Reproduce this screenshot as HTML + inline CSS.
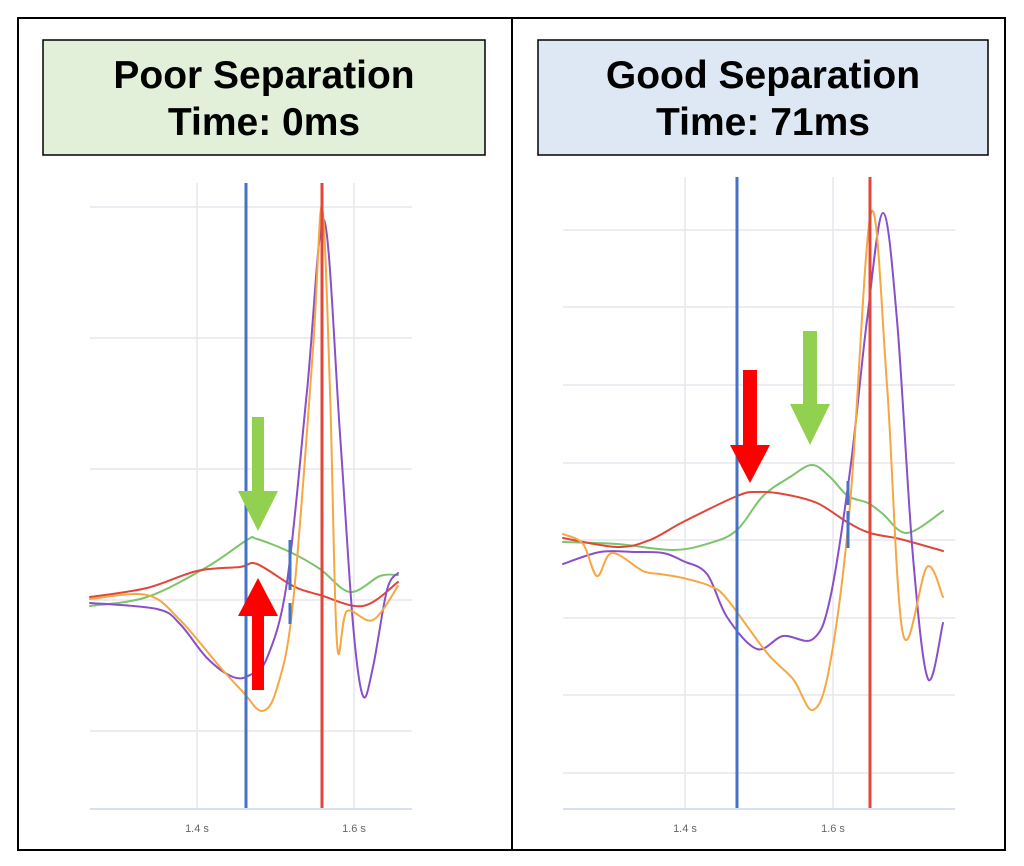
<!DOCTYPE html>
<html><head><style>
html,body{margin:0;padding:0;background:#fff;}
svg{display:block;}
text{font-family:"Liberation Sans",sans-serif;}
</style></head><body>
<svg id="s" width="1024" height="866" viewBox="0 0 1024 866" xmlns="http://www.w3.org/2000/svg">
<rect x="0" y="0" width="1024" height="866" fill="#fff"/>
<rect x="18" y="18" width="987" height="832" fill="none" stroke="#000" stroke-width="2"/>
<line x1="512" y1="18" x2="512" y2="850" stroke="#000" stroke-width="2"/>

<rect x="43" y="40" width="442" height="115" fill="#e2efd9" stroke="#000" stroke-width="1.5"/>
<text x="264" y="88" text-anchor="middle" font-size="39" font-weight="bold">Poor Separation</text>
<text x="264" y="135" text-anchor="middle" font-size="39" font-weight="bold">Time: 0ms</text>
<rect x="538" y="40" width="450" height="115" fill="#dee8f4" stroke="#000" stroke-width="1.5"/>
<text x="763" y="88" text-anchor="middle" font-size="39" font-weight="bold">Good Separation</text>
<text x="763" y="135" text-anchor="middle" font-size="39" font-weight="bold">Time: 71ms</text>

<!-- LEFT CHART -->
<g stroke="#e6e6ee" stroke-width="1.5">
<line x1="90" y1="207" x2="412" y2="207"/><line x1="90" y1="338" x2="412" y2="338"/>
<line x1="90" y1="469" x2="412" y2="469"/><line x1="90" y1="600" x2="412" y2="600"/>
<line x1="90" y1="731" x2="412" y2="731"/>
<line x1="197" y1="183" x2="197" y2="808"/><line x1="354" y1="183" x2="354" y2="808"/>
</g>
<line x1="90" y1="809" x2="412" y2="809" stroke="#ccd6eb" stroke-width="1.5"/>
<text x="197" y="832" text-anchor="middle" font-size="11" fill="#666">1.4 s</text>
<text x="354" y="832" text-anchor="middle" font-size="11" fill="#666">1.6 s</text>
<g fill="none" stroke-width="2" stroke-linejoin="round" stroke-linecap="round">
<polyline class="sm" stroke="#7cc46b" points="90,606 147,597 207,567 247,540 257,539 290,552 320,569 350,592 380,576 398,575"/>
<polyline class="sm" stroke="#e0463a" points="90,597 147,588 197,571 240,567 257,564 293,586 320,595 363,606 398,582"/>
<polyline class="sm" stroke="#8a4fc8" points="90,603 157,609 180,624 207,658 233,677 250,675 267,658 287,582 307,391 324,220 340,434 353,624 363,696 373,667 387,590 398,573"/>
<polyline class="sm" stroke="#f5a742" points="90,599 147,595 180,620 220,667 243,692 262,711 277,688 293,603 313,349 322,207 330,391 337,643 347,611 373,620 398,586"/>
</g>
<line x1="246" y1="183" x2="246" y2="808" stroke="#4472c4" stroke-width="3"/>
<line x1="322" y1="183" x2="322" y2="808" stroke="#e0463a" stroke-width="3"/>
<line x1="290" y1="540" x2="290" y2="590" stroke="#4472c4" stroke-width="3"/>
<line x1="290" y1="603" x2="290" y2="624" stroke="#4472c4" stroke-width="3"/>
<polygon fill="#92d050" points="252,417 264,417 264,491 278,491 258,531 238,491 252,491"/>
<polygon fill="#ff0000" points="252,690 264,690 264,616 278,616 258,578 238,616 252,616"/>

<!-- RIGHT CHART -->
<g stroke="#e6e6ee" stroke-width="1.5">
<line x1="563" y1="230" x2="955" y2="230"/><line x1="563" y1="307" x2="955" y2="307"/>
<line x1="563" y1="385" x2="955" y2="385"/><line x1="563" y1="463" x2="955" y2="463"/>
<line x1="563" y1="540" x2="955" y2="540"/><line x1="563" y1="618" x2="955" y2="618"/>
<line x1="563" y1="695" x2="955" y2="695"/><line x1="563" y1="773" x2="955" y2="773"/>
<line x1="685" y1="177" x2="685" y2="808"/><line x1="833" y1="177" x2="833" y2="808"/>
</g>
<line x1="563" y1="809" x2="955" y2="809" stroke="#ccd6eb" stroke-width="1.5"/>
<text x="685" y="832" text-anchor="middle" font-size="11" fill="#666">1.4 s</text>
<text x="833" y="832" text-anchor="middle" font-size="11" fill="#666">1.6 s</text>
<g fill="none" stroke-width="2" stroke-linejoin="round" stroke-linecap="round">
<polyline class="sm" stroke="#7cc46b" points="563,542 617,544 673,550 710,543 737,530 763,496 790,477 812,465 830,477 848,496 868,503 883,514 907,533 943,511"/>
<polyline class="sm" stroke="#e0463a" points="563,538 617,547 650,540 683,522 737,496 757,492 783,494 817,503 847,522 870,533 900,539 943,551"/>
<polyline class="sm" stroke="#8a4fc8" points="563,564 600,552 633,552 663,553 683,561 707,574 727,617 757,649 783,636 813,639 830,599 850,471 867,320 883,213 897,320 913,557 928,679 943,623"/>
<polyline class="sm" stroke="#f5a742" points="563,534 583,544 597,576 612,553 643,571 660,574 683,578 710,586 727,599 767,653 793,679 813,710 830,664 850,505 871,213 887,385 903,634 927,567 943,597"/>
</g>
<line x1="737" y1="177" x2="737" y2="808" stroke="#4472c4" stroke-width="3"/>
<line x1="870" y1="177" x2="870" y2="808" stroke="#e0463a" stroke-width="3"/>
<line x1="848" y1="481" x2="848" y2="505" stroke="#4472c4" stroke-width="3"/>
<line x1="848" y1="511" x2="848" y2="548" stroke="#4472c4" stroke-width="3"/>
<polygon fill="#ff0000" points="743,370 757,370 757,445 770,445 750,483 730,445 743,445"/>
<polygon fill="#92d050" points="803,331 817,331 817,404 830,404 810,445 790,404 803,404"/>
</svg>
<script>
document.querySelectorAll('polyline.sm').forEach(function(pl){
  var p=pl.getAttribute('points').trim().split(/\s+/).map(function(s){return s.split(',').map(Number);});
  var d='M'+p[0][0]+','+p[0][1];
  for(var i=0;i<p.length-1;i++){
    var p0=p[i-1]||p[i],p1=p[i],p2=p[i+1],p3=p[i+2]||p2;
    var c1x=p1[0]+(p2[0]-p0[0])/6,c1y=p1[1]+(p2[1]-p0[1])/6;
    var c2x=p2[0]-(p3[0]-p1[0])/6,c2y=p2[1]-(p3[1]-p1[1])/6;
    d+=' C'+c1x.toFixed(1)+','+c1y.toFixed(1)+' '+c2x.toFixed(1)+','+c2y.toFixed(1)+' '+p2[0]+','+p2[1];
  }
  var path=document.createElementNS('http://www.w3.org/2000/svg','path');
  path.setAttribute('d',d);path.setAttribute('stroke',pl.getAttribute('stroke'));
  pl.parentNode.replaceChild(path,pl);
});
</script>
</body></html>
